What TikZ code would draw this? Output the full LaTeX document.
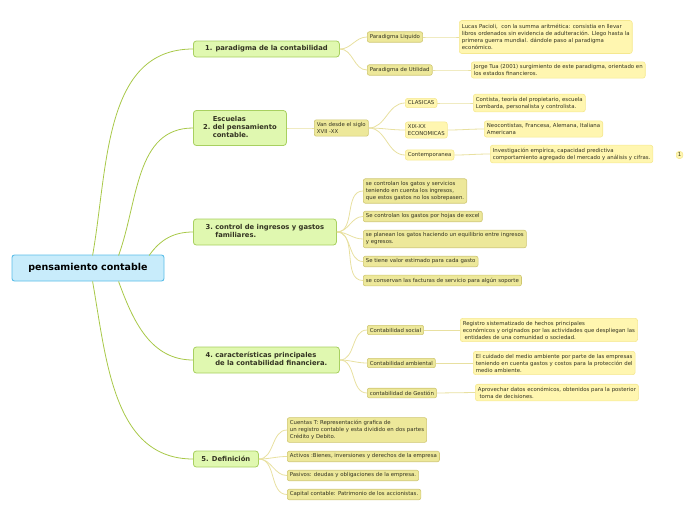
\documentclass[tikz,border=0pt]{standalone}
\usepackage{fontspec}
\setmainfont{DejaVu Sans}
\usetikzlibrary{calc}
\definecolor{mainfill}{HTML}{C8ECFB}\definecolor{maindraw}{HTML}{5BBDE8}
\definecolor{brfill}{HTML}{E0F8B0}\definecolor{brdraw}{HTML}{A8D060}
\definecolor{kfill}{HTML}{EDE89A}\definecolor{kdraw}{HTML}{CFC670}
\definecolor{lfill}{HTML}{FFF6B0}\definecolor{ldraw}{HTML}{F5E890}
\definecolor{gline}{HTML}{A8C848}\definecolor{yline}{HTML}{E8E0A0}
\definecolor{txt}{HTML}{333322}
\tikzset{
 mainn/.style={draw=maindraw,fill=mainfill,rounded corners=2.5pt,line width=0.9pt,font=\bfseries\fontsize{9.5}{11}\selectfont,text=black,minimum width=152pt,minimum height=26pt,inner sep=2pt},
 br/.style={draw=brdraw,fill=brfill,rounded corners=3pt,line width=0.8pt,font=\bfseries\fontsize{6.8}{8.2}\selectfont,text=txt,anchor=west,align=left,inner sep=3pt},
 kn/.style={draw=kdraw,fill=kfill,rounded corners=2pt,line width=0.6pt,font=\fontsize{5.4}{7}\selectfont,text=txt,anchor=west,align=left,inner sep=2.6pt},
 ln/.style={draw=ldraw,fill=lfill,rounded corners=2.5pt,line width=0.6pt,font=\fontsize{5.4}{7}\selectfont,text=txt,anchor=west,align=left,inner sep=2.6pt},
 gc/.style={draw=gline,line width=0.8pt},
 yc/.style={draw=yline,line width=0.8pt},
}
\begin{document}
\begin{tikzpicture}[x=1pt,y=-1pt]
\useasboundingbox (0,0) rectangle (696,520);
\node[mainn] (m) at (88,268) {pensamiento contable};
\node[br,minimum width=146pt,minimum height=16pt] (b1) at (193,49) {1. paradigma de la contabilidad};
\node[br,minimum width=93pt,minimum height=35pt] (b2) at (193,128) {\begin{tabular}{@{}l@{\ }l@{}}&Escuelas\\2.&del pensamiento\\&contable.\end{tabular}};
\node[br,minimum width=143pt,minimum height=26pt] (b3) at (193,232) {\begin{tabular}{@{}l@{\ }l@{}}3.&control de ingresos y gastos\\&familiares.\end{tabular}};
\node[br,minimum width=146pt,minimum height=26pt] (b4) at (193,360) {\begin{tabular}{@{}l@{\ }l@{}}4.&características principales\\&de la contabilidad financiera.\end{tabular}};
\node[br,minimum width=65pt,minimum height=16pt] (b5) at (193,459) {5. Definición};
\foreach \b/\xo/\o/\yy in {b1/0.53/80/255,b2/0.70/70/255,b3/0.90/55/255}
  \draw[gc] ($(m.south west)!\xo!(m.south east)+(0,-26)$) to[out=\o,in=180] (\b.west);
\foreach \b/\xo/\o in {b4/0.70/-70,b5/0.53/-80}
  \draw[gc] ($(m.south west)!\xo!(m.south east)$) to[out=\o,in=180] (\b.west);
% branch 1
\node[kn] (p1) at (367,37) {Paradigma Liquido};
\node[kn] (p2) at (367,70) {Paradigma de Utilidad};
\node[ln,minimum height=33pt] (p1a) at (459,37) {Lucas Pacioli,\ \ con la summa aritmética: consistia en llevar\\libros ordenados sin evidencia de adulteración. Llego hasta la\\primera guerra mundial. dándole paso al paradigma\\económico.};
\node[ln] (p2a) at (471,70) {Jorge Tua (2001) surgimiento de este paradigma, orientado en\\los estados financieros.};
% branch 2
\node[kn] (v) at (314,128) {Van desde el siglo\\XVII -XX};
\node[ln] (c1) at (405,103) {CLASICAS};
\node[ln] (c2) at (405,130) {XIX-XX\\ECONOMICAS};
\node[ln] (c3) at (405,155) {Contemporanea};
\node[ln] (c1a) at (473,103) {Contista, teoría del propietario, escuela\\Lombarda, personalista y controlista.};
\node[ln] (c2a) at (484,129) {Neocontistas, Francesa, Alemana, Italiana\\Americana};
\node[ln] (c3a) at (490,154) {Investigación empírica, capacidad predictiva\\comportamiento agregado del mercado y análisis y cifras.};
\node[ln,inner sep=1.5pt] (one) at (676,155) {1};
% branch 3
\node[kn] (d1) at (363,191) {se controlan los gatos y servicios\\teniendo en cuenta los ingresos,\\que estos gastos no los sobrepasen.};
\node[kn] (d2) at (363,216.5) {Se controlan los gastos por hojas de excel};
\node[kn] (d3) at (363,239) {se planean los gatos haciendo un equilibrio entre ingresos\\y egresos.};
\node[kn] (d4) at (363,261.5) {Se tiene valor estimado para cada gasto};
\node[kn] (d5) at (363,280.5) {se conservan las facturas de servicio para algún soporte};
% branch 4
\node[kn] (e1) at (367,330) {Contabilidad social};
\node[kn] (e2) at (367,363) {Contabilidad ambiental};
\node[kn] (e3) at (367,393) {contabilidad de Gestión};
\node[ln] (e1a) at (460,330) {Registro sistematizado de hechos principales\\económicos y originados por las actividades que despliegan las\\\ entidades de una comunidad o sociedad.};
\node[ln] (e2a) at (473,363) {El cuidado del medio ambiente por parte de las empresas\\teniendo en cuenta gastos y costos para la protección del\\medio ambiente.};
\node[ln] (e3a) at (475,392.5) {Aprovechar datos económicos, obtenidos para la posterior\\\ toma de decisiones.};
% branch 5
\node[kn] (f1) at (287,430) {Cuentas T: Representación grafica de\\un registro contable y esta dividido en dos partes\\Crédito y Debito.};
\node[kn] (f2) at (287,456.5) {Activos :Bienes, inversiones y derechos de la empresa};
\node[kn] (f3) at (287,475.5) {Pasivos: deudas y obligaciones de la empresa.};
\node[kn] (f4) at (287,494.5) {Capital contable: Patrimonio de los accionistas.};
% connectors
\foreach \p/\c in {b1/p1,b1/p2,b2/v,v/c1,v/c2,v/c3,b3/d1,b3/d2,b3/d3,b3/d4,b3/d5,b4/e1,b4/e2,b4/e3,b5/f1,b5/f2,b5/f3,b5/f4,p1/p1a,p2/p2a,c1/c1a,c2/c2a,c3/c3a}
  \draw[yc] (\p.east) to[out=0,in=180] (\c.west);
\foreach \p/\c in {e1/e1a,e2/e2a,e3/e3a}
  \draw[yc] (\p.east) -- (\c.west);
\end{tikzpicture}
\end{document}
